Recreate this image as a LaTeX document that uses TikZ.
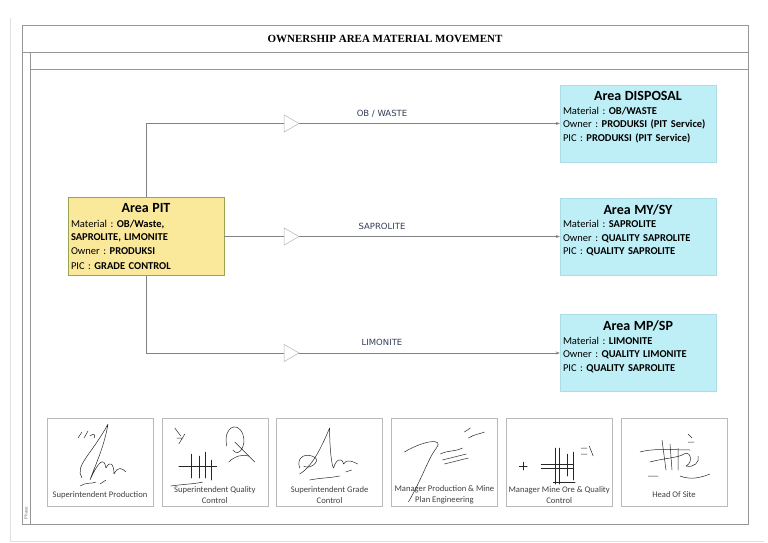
\documentclass[tikz,border=0pt]{standalone}
\usepackage{fontspec}
\setmainfont{Carlito}
\newfontfamily\titlefont{Liberation Serif}
\newfontfamily\flowfont{DejaVu Sans}
\usetikzlibrary{shapes.geometric,arrows.meta,positioning}
\frenchspacing

% colours
\definecolor{pityellow}{RGB}{250,232,155}
\definecolor{pitedge}{RGB}{150,165,80}
\definecolor{areacyan}{RGB}{190,238,246}
\definecolor{cyanedge}{RGB}{172,220,230}
\definecolor{framegray}{RGB}{150,150,150}
\definecolor{flowgray}{RGB}{130,130,130}
\definecolor{labelslate}{RGB}{50,60,85}
\definecolor{signedge}{RGB}{185,185,185}

\tikzset{
  frameline/.style={draw=framegray,line width=0.8pt},
  faintline/.style={draw=black!12,line width=0.5pt},
  titletext/.style={font=\titlefont\bfseries\fontsize{11}{13}\selectfont,inner sep=0pt},
  pitbox/.style={draw=pitedge,fill=pityellow,line width=0.6pt,minimum width=156,minimum height=78,
    text width=150,inner sep=3pt,align=left,font=\fontsize{10.5}{14}\selectfont},
  areabox/.style={draw=cyanedge,fill=areacyan,line width=0.4pt,minimum width=156,minimum height=77,inner sep=0pt},
  areatext/.style={text width=150,inner sep=0pt,align=left,font=\fontsize{10.5}{13.5}\selectfont},
  flow/.style={draw=flowgray,line width=0.7pt,-{Stealth[length=4pt,width=3pt]}},
  flowmark/.style={isosceles triangle,isosceles triangle apex angle=60,draw=black!30,fill=white,
    line width=0.5pt,minimum height=15,inner sep=0pt},
  flowlabel/.style={font=\flowfont\fontsize{8.5}{10}\selectfont,text=labelslate,inner sep=1pt},
  signbox/.style={draw=signedge,line width=0.5pt,minimum width=106,minimum height=88,inner sep=0pt},
  signlabel/.style={font=\fontsize{8.6}{11}\selectfont,text=black!75,align=center,inner sep=0pt},
  signink/.style={draw=black!85,line width=0.5pt,line cap=round,line join=round}
}

\begin{document}
\begin{tikzpicture}[x=1pt,y=-1pt]
\useasboundingbox (0,0) rectangle (768,543);

% lembar dan bingkai
\draw[faintline] (10,18) -- (10,541) -- (764,541);
\draw[frameline] (22,25) rectangle (748,524);
\draw[frameline] (22,52) -- (748,52);
\draw[frameline] (30,69) -- (748,69);
\draw[frameline] (30,52) -- (30,524);
\node[titletext] (title) at (385,39) {OWNERSHIP AREA MATERIAL MOVEMENT};
\node[rotate=90,font=\fontsize{5}{5}\selectfont,text=black!55,inner sep=0pt] (phase) at (26,513) {Phase};

% area asal
\node[pitbox] (pit) at (146,236.5) {%
  \makebox[\linewidth][c]{\fontsize{14}{16}\selectfont\bfseries Area PIT}\\
  Material : \textbf{OB/Waste,}\\
  \textbf{SAPROLITE, LIMONITE}\\
  Owner : \textbf{PRODUKSI}\\
  PIC : \textbf{GRADE CONTROL}};

% area tujuan
\node[areabox] (disposal) at (638,123.5) {};
\node[areatext,anchor=north] (disposaltext) at ([yshift=-6.5pt]disposal.north) {%
  \makebox[\linewidth][c]{\fontsize{14}{16}\selectfont\bfseries Area DISPOSAL}\\
  Material : \textbf{OB/WASTE}\\
  Owner : \textbf{PRODUKSI (PIT Service)}\\
  PIC : \textbf{PRODUKSI (PIT Service)}};

\node[areabox] (mysy) at (638,236.5) {};
\node[areatext,anchor=north] (mysytext) at ([yshift=-6.5pt]mysy.north) {%
  \makebox[\linewidth][c]{\fontsize{14}{16}\selectfont\bfseries Area MY/SY}\\
  Material : \textbf{SAPROLITE}\\
  Owner : \textbf{QUALITY SAPROLITE}\\
  PIC : \textbf{QUALITY SAPROLITE}};

\node[areabox] (mpsp) at (638,353) {};
\node[areatext,anchor=north] (mpsptext) at ([yshift=-6.5pt]mpsp.north) {%
  \makebox[\linewidth][c]{\fontsize{14}{16}\selectfont\bfseries Area MP/SP}\\
  Material : \textbf{LIMONITE}\\
  Owner : \textbf{QUALITY LIMONITE}\\
  PIC : \textbf{QUALITY SAPROLITE}};

% aliran material
\draw[flow] (pit.north) |- (disposal.west);
\draw[flow] (pit.east) -- (mysy.west);
\draw[flow] (pit.south) |- (mpsp.west);

\node[flowmark] (markwaste) at (289,0 |- disposal.west) {};
\node[flowmark] (marksap) at (289,0 |- mysy.west) {};
\node[flowmark] (marklim) at (289,0 |- mpsp.west) {};

\node[flowlabel] (lblwaste) at (382,114) {OB / WASTE};
\node[flowlabel] (lblsap) at (382,226) {SAPROLITE};
\node[flowlabel] (lbllim) at (382,342) {LIMONITE};

% kotak tanda tangan
\foreach \i/\lbl in {0/{Superintendent Production},
                     1/{Superintendent Quality\\Control},
                     2/{Superintendent Grade\\Control},
                     3/{Manager Production \& Mine\\Plan Engineering},
                     4/{Manager Mine Ore \& Quality\\Control},
                     5/{Head Of Site}}{
  \node[signbox] (sign\i) at (100+114.8*\i,462) {};
  \node[signlabel] (signlbl\i) at (100+114.8*\i,495) {\lbl};
}

% coretan tanda tangan
\begin{scope}[shift={(sign0.center)}]
  \draw[signink] (-22,-24) -- (-18,-30) (-16,-24) -- (-12,-31) (-10,-26) .. controls (-6,-30) and (-4,-26) .. (-6,-24);
  \draw[signink] (-18,16) .. controls (-26,4) and (-8,-8) .. (8,-38)
    .. controls (4,-14) and (-6,6) .. (-10,18) .. controls (-2,0) and (4,-6) .. (6,6)
    .. controls (10,-2) and (14,2) .. (14,12) .. controls (18,4) and (22,6) .. (26,10);
  \draw[signink] (-20,24) .. controls (-14,20) and (-8,22) .. (-4,20) (0,22) -- (6,18);
\end{scope}
\begin{scope}[shift={(sign1.center)}]
  \draw[signink] (-40,-34) -- (-34,-26) (-38,-24) -- (-32,-24) (-36,-18) -- (-30,-28);
  \draw[signink] (-36,4) -- (2,4) (-24,-8) -- (-24,16) (-16,-6) -- (-16,16) (-10,-10) -- (-10,16)
    (-4,-2) -- (-4,18);
  \draw[signink] (12,-16) .. controls (8,-34) and (22,-42) .. (28,-28)
    .. controls (32,-16) and (24,-4) .. (18,-12) (20,-20) -- (40,0);
  \draw[signink] (14,0) .. controls (20,-6) and (28,-8) .. (34,-6) (-44,24) .. controls (-30,22) and (-20,22) .. (-12,20);
\end{scope}
\begin{scope}[shift={(sign2.center)}]
  \draw[signink] (-30,6) .. controls (-34,-6) and (-22,-10) .. (-14,-4)
    .. controls (-10,0) and (-20,8) .. (-26,4);
  \draw[signink] (-30,12) .. controls (-16,4) and (-6,-20) .. (0,-34)
    .. controls (0,-14) and (2,4) .. (4,6) .. controls (6,-2) and (12,-6) .. (14,2)
    .. controls (18,-4) and (24,0) .. (28,2);
  \draw[signink] (-20,18) .. controls (-10,16) and (0,16) .. (10,14) (16,10) -- (22,8);
\end{scope}
\begin{scope}[shift={(sign3.center)}]
  \draw[signink] (-40,-10) .. controls (-20,-22) and (0,-24) .. (-8,-14)
    .. controls (-16,-4) and (-22,16) .. (-36,40);
  \draw[signink] (-4,-8) .. controls (4,-12) and (10,-10) .. (18,-14) (-2,-2) -- (22,-8) (0,2) -- (24,-4);
  \draw[signink] (20,-30) -- (26,-34) (24,-24) .. controls (30,-28) and (36,-28) .. (40,-30);
\end{scope}
\begin{scope}[shift={(sign4.center)}]
  \draw[signink] (-40,4) -- (-32,4) (-36,0) -- (-36,8);
  \draw[signink] (-18,6) -- (14,6) (-18,2) -- (14,2) (-4,-14) -- (-4,22) (0,-14) -- (0,22)
    (8,-8) -- (8,14) (14,-10) -- (14,18) (-6,20) -- (16,20);
  \draw[signink] (22,-14) -- (28,-14) (22,-8) -- (28,-8) (30,-16) -- (34,-6);
\end{scope}
\begin{scope}[shift={(sign5.center)}]
  \draw[signink] (-34,-10) .. controls (-20,-14) and (0,-12) .. (16,-12);
  \draw[signink] (-12,-22) -- (-8,8) (-4,-18) -- (-2,8) (4,-14) -- (4,8)
    (-24,0) .. controls (-10,-4) and (4,-4) .. (10,-8) .. controls (16,-12) and (20,0) .. (12,4)
    .. controls (20,6) and (26,0) .. (24,-6);
  \draw[signink] (6,14) .. controls (16,18) and (26,16) .. (36,12) (-26,14) -- (-16,14);
  \draw[signink] (14,-28) -- (18,-24) (14,-20) -- (20,-20);
\end{scope}

\end{tikzpicture}
\end{document}
